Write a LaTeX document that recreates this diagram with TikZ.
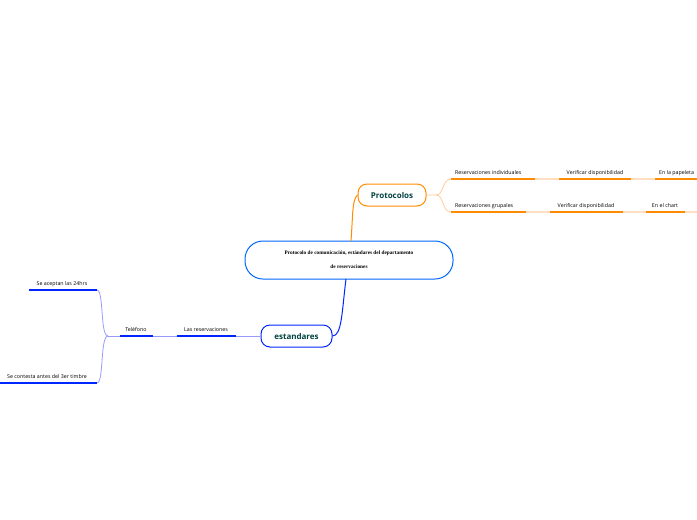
\documentclass[tikz,border=0pt]{standalone}
\usepackage{fontspec}
\setsansfont{Open Sans}
\setmainfont{Liberation Serif}
\begin{document}
\begin{tikzpicture}[x=1pt,y=-1pt,
  orange/.style={draw=orange!90!yellow,line width=1.2pt},
  lorange/.style={draw=orange!25,line width=1.2pt},
  bl/.style={draw=blue!85!cyan,line width=1.2pt},
  lbl/.style={draw=blue!40,line width=0.8pt},
  lab/.style={font=\sffamily\fontsize{5.3}{6}\selectfont,inner sep=0pt,anchor=base},
  main/.style={font=\sffamily\bfseries\fontsize{8}{9}\selectfont,text=teal!50!black,rounded corners=9pt,line width=1pt,align=center}]
\useasboundingbox (0,0) rectangle (697,520);
\node[draw=blue!60!cyan,line width=1pt,rounded corners=18pt,minimum width=208pt,minimum height=38pt,align=center,font=\rmfamily\bfseries\fontsize{5.3}{14}\selectfont] (c) at (349,260) {Protocolo de comunicación, estándares del departamento\\de reservaciones};
\node[main,draw=orange!90!yellow,minimum width=68pt,minimum height=22pt] (p) at (392,195) {Protocolos};
\node[main,draw=blue!85!cyan,minimum width=71pt,minimum height=22pt] (e) at (296.5,336) {estandares};
\draw[orange!90!yellow,line width=1pt] (351,241) .. controls (353,215) and (352,200) .. (p.west);
\draw[blue!85!cyan,line width=1pt] (346,279) .. controls (342,310) and (342,336) .. (e.east);
% protocol branches
\coordinate (r1) at (451,179); \coordinate (r2) at (451,212);
\draw[orange!40,line width=0.8pt] (p.east) -- (436,195) .. controls (444,195) and (442,179) .. (r1);
\draw[orange!40,line width=0.8pt] (436,195) .. controls (444,195) and (442,212) .. (r2);
\draw[orange] (r1) -- (535,179); \draw[lorange] (535,179) -- (559,179);
\draw[orange] (559,179) -- (631,179); \draw[lorange] (631,179) -- (655,179);
\draw[orange] (655,179) -- (697,179);
\draw[orange] (r2) -- (526,212); \draw[lorange] (526,212) -- (550,212);
\draw[orange] (550,212) -- (623,212); \draw[lorange] (623,212) -- (646,212);
\draw[orange] (646,212) -- (685,212); \draw[lorange] (685,212) -- (697,212);
\node[lab,anchor=base west] (t1) at (455,174) {Reservaciones individuales};
\node[lab] (t2) at (595,174) {Verificar disponibilidad};
\node[lab,anchor=base west] (t3) at (659,174) {En la papeleta};
\node[lab,anchor=base west] (t4) at (455,207) {Reservaciones grupales};
\node[lab] (t5) at (586,207) {Verificar disponibilidad};
\node[lab] (t6) at (665,207) {En el chart};
% left branches
\draw[lbl] (e.west) -- (236,336);
\draw[bl] (236,336) -- (177,336); \draw[lbl] (177,336) -- (153,336);
\draw[bl] (153,336) -- (120,336); \draw[lbl] (120,336) -- (108,336);
\coordinate (s1) at (97,290); \coordinate (s2) at (97,383);
\draw[lbl] (108,336) .. controls (100,336) and (104,290) .. (s1);
\draw[lbl] (108,336) .. controls (100,336) and (104,383) .. (s2);
\draw[bl] (s1) -- (29,290); \draw[bl] (s2) -- (0,383);
\node[lab] (l1) at (206,331) {Las reservaciones};
\node[lab] (l2) at (136,331) {Teléfono};
\node[lab] (l3) at (62,285) {Se aceptan las 24hrs};
\node[lab] (l4) at (47,378) {Se contesta antes del 3er timbre};
\end{tikzpicture}
\end{document}
